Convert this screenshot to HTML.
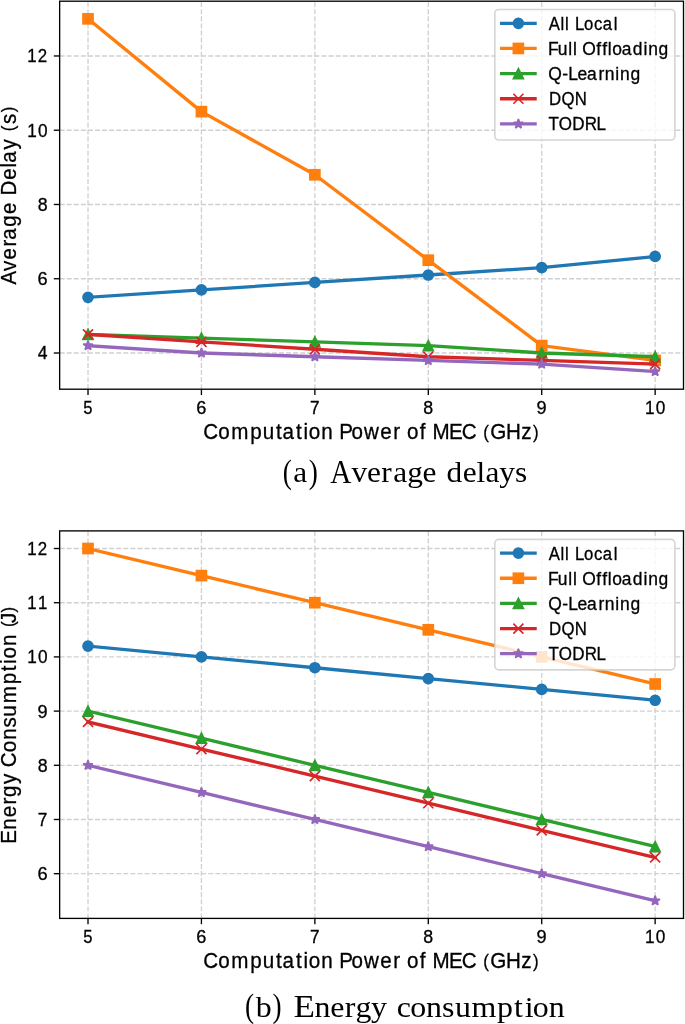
<!DOCTYPE html>
<html><head><meta charset="utf-8"><style>
html,body{margin:0;padding:0;background:#fff;}
svg{display:block;will-change:transform;}
text{font-kerning:none;font-variant-ligatures:none;}
.s{stroke:#000;stroke-width:0.3px;}
</style></head><body>
<svg width="685" height="1024" viewBox="0 0 685 1024">
<rect width="685" height="1024" fill="#fff"/>
<g stroke="#d0d0d0" stroke-width="1.335" stroke-dasharray="4.940,2.136"><line x1="88.01" y1="389.20" x2="88.01" y2="1.20"/><line x1="201.43" y1="389.20" x2="201.43" y2="1.20"/><line x1="314.86" y1="389.20" x2="314.86" y2="1.20"/><line x1="428.29" y1="389.20" x2="428.29" y2="1.20"/><line x1="541.72" y1="389.20" x2="541.72" y2="1.20"/><line x1="655.14" y1="389.20" x2="655.14" y2="1.20"/><line x1="59.65" y1="353.00" x2="683.50" y2="353.00"/><line x1="59.65" y1="278.74" x2="683.50" y2="278.74"/><line x1="59.65" y1="204.48" x2="683.50" y2="204.48"/><line x1="59.65" y1="130.22" x2="683.50" y2="130.22"/><line x1="59.65" y1="55.97" x2="683.50" y2="55.97"/></g>
<polyline points="88.01,297.31 201.43,289.88 314.86,282.45 428.29,275.03 541.72,267.60 655.14,256.46" fill="none" stroke="#1f77b4" stroke-width="3.338" stroke-linejoin="round" stroke-linecap="square"/>
<circle cx="88.01" cy="297.31" r="5.01" fill="#1f77b4" stroke="#1f77b4" stroke-width="1.67"/><circle cx="201.43" cy="289.88" r="5.01" fill="#1f77b4" stroke="#1f77b4" stroke-width="1.67"/><circle cx="314.86" cy="282.45" r="5.01" fill="#1f77b4" stroke="#1f77b4" stroke-width="1.67"/><circle cx="428.29" cy="275.03" r="5.01" fill="#1f77b4" stroke="#1f77b4" stroke-width="1.67"/><circle cx="541.72" cy="267.60" r="5.01" fill="#1f77b4" stroke="#1f77b4" stroke-width="1.67"/><circle cx="655.14" cy="256.46" r="5.01" fill="#1f77b4" stroke="#1f77b4" stroke-width="1.67"/>
<polyline points="88.01,18.84 201.43,111.66 314.86,174.78 428.29,260.18 541.72,345.57 655.14,360.42" fill="none" stroke="#ff7f0e" stroke-width="3.338" stroke-linejoin="round" stroke-linecap="square"/>
<rect x="83.00" y="13.83" width="10.01" height="10.01" fill="#ff7f0e" stroke="#ff7f0e" stroke-width="1.67"/><rect x="196.43" y="106.65" width="10.01" height="10.01" fill="#ff7f0e" stroke="#ff7f0e" stroke-width="1.67"/><rect x="309.85" y="169.77" width="10.01" height="10.01" fill="#ff7f0e" stroke="#ff7f0e" stroke-width="1.67"/><rect x="423.28" y="255.17" width="10.01" height="10.01" fill="#ff7f0e" stroke="#ff7f0e" stroke-width="1.67"/><rect x="536.71" y="340.57" width="10.01" height="10.01" fill="#ff7f0e" stroke="#ff7f0e" stroke-width="1.67"/><rect x="650.14" y="355.42" width="10.01" height="10.01" fill="#ff7f0e" stroke="#ff7f0e" stroke-width="1.67"/>
<polyline points="88.01,334.43 201.43,338.15 314.86,341.86 428.29,345.57 541.72,353.00 655.14,356.71" fill="none" stroke="#2ca02c" stroke-width="3.338" stroke-linejoin="round" stroke-linecap="square"/>
<path d="M88.01,329.43L83.00,339.44L93.01,339.44Z" fill="#2ca02c" stroke="#2ca02c" stroke-width="1.67"/><path d="M201.43,333.14L196.43,343.15L206.44,343.15Z" fill="#2ca02c" stroke="#2ca02c" stroke-width="1.67"/><path d="M314.86,336.85L309.85,346.87L319.87,346.87Z" fill="#2ca02c" stroke="#2ca02c" stroke-width="1.67"/><path d="M428.29,340.57L423.28,350.58L433.30,350.58Z" fill="#2ca02c" stroke="#2ca02c" stroke-width="1.67"/><path d="M541.72,347.99L536.71,358.01L546.72,358.01Z" fill="#2ca02c" stroke="#2ca02c" stroke-width="1.67"/><path d="M655.14,351.70L650.14,361.72L660.15,361.72Z" fill="#2ca02c" stroke="#2ca02c" stroke-width="1.67"/>
<polyline points="88.01,334.43 201.43,341.86 314.86,349.29 428.29,356.71 541.72,360.42 655.14,364.14" fill="none" stroke="#d62728" stroke-width="3.338" stroke-linejoin="round" stroke-linecap="square"/>
<path d="M83.00,329.43L93.01,339.44M83.00,339.44L93.01,329.43" fill="none" stroke="#d62728" stroke-width="1.67"/><path d="M196.43,336.85L206.44,346.87M196.43,346.87L206.44,336.85" fill="none" stroke="#d62728" stroke-width="1.67"/><path d="M309.85,344.28L319.87,354.29M309.85,354.29L319.87,344.28" fill="none" stroke="#d62728" stroke-width="1.67"/><path d="M423.28,351.70L433.30,361.72M423.28,361.72L433.30,351.70" fill="none" stroke="#d62728" stroke-width="1.67"/><path d="M536.71,355.42L546.72,365.43M536.71,365.43L546.72,355.42" fill="none" stroke="#d62728" stroke-width="1.67"/><path d="M650.14,359.13L660.15,369.14M650.14,369.14L660.15,359.13" fill="none" stroke="#d62728" stroke-width="1.67"/>
<polyline points="88.01,345.57 201.43,353.00 314.86,356.71 428.29,360.42 541.72,364.14 655.14,371.56" fill="none" stroke="#9467bd" stroke-width="3.338" stroke-linejoin="round" stroke-linecap="square"/>
<path d="M88.01,340.57L86.88,344.03L83.24,344.03L86.19,346.16L85.06,349.62L88.01,347.49L90.95,349.62L89.83,346.16L92.77,344.03L89.13,344.03Z" fill="#9467bd" stroke="#9467bd" stroke-width="1.67" stroke-linejoin="bevel"/><path d="M201.43,347.99L200.31,351.45L196.67,351.45L199.62,353.59L198.49,357.05L201.43,354.91L204.38,357.05L203.25,353.59L206.20,351.45L202.56,351.45Z" fill="#9467bd" stroke="#9467bd" stroke-width="1.67" stroke-linejoin="bevel"/><path d="M314.86,351.70L313.74,355.16L310.10,355.16L313.04,357.30L311.92,360.76L314.86,358.62L317.80,360.76L316.68,357.30L319.62,355.16L315.99,355.16Z" fill="#9467bd" stroke="#9467bd" stroke-width="1.67" stroke-linejoin="bevel"/><path d="M428.29,355.42L427.16,358.88L423.53,358.88L426.47,361.02L425.35,364.48L428.29,362.34L431.23,364.48L430.11,361.02L433.05,358.88L429.41,358.88Z" fill="#9467bd" stroke="#9467bd" stroke-width="1.67" stroke-linejoin="bevel"/><path d="M541.72,359.13L540.59,362.59L536.95,362.59L539.90,364.73L538.77,368.19L541.72,366.05L544.66,368.19L543.53,364.73L546.48,362.59L542.84,362.59Z" fill="#9467bd" stroke="#9467bd" stroke-width="1.67" stroke-linejoin="bevel"/><path d="M655.14,366.56L654.02,370.02L650.38,370.02L653.32,372.15L652.20,375.61L655.14,373.48L658.09,375.61L656.96,372.15L659.91,370.02L656.27,370.02Z" fill="#9467bd" stroke="#9467bd" stroke-width="1.67" stroke-linejoin="bevel"/>
<rect x="59.65" y="1.20" width="623.85" height="388.00" fill="none" stroke="#000" stroke-width="1.335"/>
<g stroke="#000" stroke-width="1.335" stroke-linecap="butt"><line x1="88.01" y1="389.20" x2="88.01" y2="395.04"/><line x1="201.43" y1="389.20" x2="201.43" y2="395.04"/><line x1="314.86" y1="389.20" x2="314.86" y2="395.04"/><line x1="428.29" y1="389.20" x2="428.29" y2="395.04"/><line x1="541.72" y1="389.20" x2="541.72" y2="395.04"/><line x1="655.14" y1="389.20" x2="655.14" y2="395.04"/><line x1="53.81" y1="353.00" x2="59.65" y2="353.00"/><line x1="53.81" y1="278.74" x2="59.65" y2="278.74"/><line x1="53.81" y1="204.48" x2="59.65" y2="204.48"/><line x1="53.81" y1="130.22" x2="59.65" y2="130.22"/><line x1="53.81" y1="55.97" x2="59.65" y2="55.97"/></g>
<text transform="scale(0.9385,1)" x="88.78" y="413.56" font-family='"Liberation Sans", sans-serif' font-size="17.69" class="s" fill="#000">5</text>
<text transform="scale(1.0293,1)" x="190.78" y="413.56" font-family='"Liberation Sans", sans-serif' font-size="17.69" class="s" fill="#000">6</text>
<text transform="scale(0.9728,1)" x="318.71" y="413.56" font-family='"Liberation Sans", sans-serif' font-size="17.69" class="s" fill="#000">7</text>
<text transform="scale(1.0052,1)" x="421.13" y="413.56" font-family='"Liberation Sans", sans-serif' font-size="17.69" class="s" fill="#000">8</text>
<text transform="scale(1.0272,1)" x="522.41" y="413.56" font-family='"Liberation Sans", sans-serif' font-size="17.69" class="s" fill="#000">9</text>
<text transform="scale(0.9733,1)" x="662.66 673.65" y="413.56" font-family='"Liberation Sans", sans-serif' font-size="17.69" class="s" fill="#000">10</text>
<text transform="scale(0.9946,1)" x="38.00" y="359.48" font-family='"Liberation Sans", sans-serif' font-size="17.69" class="s" fill="#000">4</text>
<text transform="scale(1.0293,1)" x="36.55" y="285.22" font-family='"Liberation Sans", sans-serif' font-size="17.69" class="s" fill="#000">6</text>
<text transform="scale(1.0052,1)" x="37.54" y="210.97" font-family='"Liberation Sans", sans-serif' font-size="17.69" class="s" fill="#000">8</text>
<text transform="scale(0.9733,1)" x="27.94 38.94" y="136.71" font-family='"Liberation Sans", sans-serif' font-size="17.69" class="s" fill="#000">10</text>
<text transform="scale(0.9543,1)" x="28.60 39.58" y="62.45" font-family='"Liberation Sans", sans-serif' font-size="17.69" class="s" fill="#000">12</text>
<text transform="scale(0.9708,1)" x="209.32 224.71 238.18 257.80 270.70 284.23 290.93 304.96 312.52 318.15 331.04 349.48 362.11 375.08 391.68 405.00 419.34 432.49 445.43 462.54 475.62 504.94 521.28 536.91" y="438.93" font-family='"Liberation Sans", sans-serif' font-size="21.23" class="s" fill="#000">ComputationPowerofMECGHz</text><text transform="translate(486.62,437.61) scale(0.7975,0.9019)" x="-4.13" y="0" font-family='"Liberation Sans", sans-serif' font-size="21.23" class="s" fill="#000">(</text><text transform="translate(535.41,437.61) scale(0.7975,0.9019)" x="-2.94" y="0" font-family='"Liberation Sans", sans-serif' font-size="21.23" class="s" fill="#000">)</text>
<text transform="rotate(-90) scale(0.9612,1)" x="-295.87 -282.02 -270.00 -256.56 -249.45 -235.82 -222.62 -203.32 -187.13 -174.33 -169.36 -155.45 -128.96" y="15.50" font-family='"Liberation Sans", sans-serif' font-size="21.23" class="s" fill="#000">AverageDelays</text><text transform="translate(14.18,128.06) rotate(-90) scale(0.7975,0.9019)" x="-4.13" y="0" font-family='"Liberation Sans", sans-serif' font-size="21.23" class="s" fill="#000">(</text><text transform="translate(14.18,109.93) rotate(-90) scale(0.7975,0.9019)" x="-2.94" y="0" font-family='"Liberation Sans", sans-serif' font-size="21.23" class="s" fill="#000">)</text>
<text transform="scale(1.0694,1)" x="274.21 328.78 343.26 356.60 367.64 380.87 395.11 417.61 432.75 445.60 453.91 466.78 481.48" y="482.50" font-family='"Liberation Serif", serif' font-size="29.30" class="r" fill="#000">averagedelays</text><text transform="translate(287.50,482.96) scale(0.9310,1.1367)" x="-5.05" y="0" font-family='"Liberation Serif", serif' font-size="29.30" class="r" fill="#000">(</text><text transform="translate(313.08,482.96) scale(0.9310,1.1367)" x="-4.71" y="0" font-family='"Liberation Serif", serif' font-size="29.30" class="r" fill="#000">)</text><text transform="translate(340.97,482.50) scale(1.0014,1.1179)" x="-10.62" y="0" font-family='"Liberation Serif", serif' font-size="29.30" class="r" fill="#000">A</text>
<rect x="494.80" y="9.50" width="180.10" height="130.50" rx="4" ry="4" fill="#fff" fill-opacity="0.8" stroke="#ccc" stroke-opacity="0.8" stroke-width="1.669"/><line x1="501.70" y1="23.30" x2="535.08" y2="23.30" stroke="#1f77b4" stroke-width="3.338" stroke-linecap="square"/><circle cx="518.39" cy="23.30" r="5.01" fill="#1f77b4" stroke="#1f77b4" stroke-width="1.67"/><text transform="scale(0.9579,1)" x="572.82 585.09 589.93 600.21 609.71 620.11 629.31 640.62" y="29.80" font-family='"Liberation Sans", sans-serif' font-size="17.44" class="s" fill="#000">AllLocal</text><line x1="501.70" y1="48.45" x2="535.08" y2="48.45" stroke="#ff7f0e" stroke-width="3.338" stroke-linecap="square"/><rect x="513.38" y="43.44" width="10.01" height="10.01" fill="#ff7f0e" stroke="#ff7f0e" stroke-width="1.67"/><text transform="scale(1.0007,1)" x="547.68 557.32 567.87 572.51 581.85 595.92 601.79 607.31 611.82 621.41 632.34 642.97 647.69 658.13" y="54.95" font-family='"Liberation Sans", sans-serif' font-size="17.44" class="s" fill="#000">FullOffloading</text><line x1="501.70" y1="73.60" x2="535.08" y2="73.60" stroke="#2ca02c" stroke-width="3.338" stroke-linecap="square"/><path d="M518.39,68.59L513.38,78.61L523.40,78.61Z" fill="#2ca02c" stroke="#2ca02c" stroke-width="1.67"/><text transform="scale(1.0019,1)" x="547.32 561.22 567.27 576.42 585.99 597.41 603.59 614.07 618.78 629.21" y="80.10" font-family='"Liberation Sans", sans-serif' font-size="17.44" class="s" fill="#000">Q-Learning</text><line x1="501.70" y1="98.75" x2="535.08" y2="98.75" stroke="#d62728" stroke-width="3.338" stroke-linecap="square"/><path d="M513.38,93.74L523.40,103.76M513.38,103.76L523.40,93.74" fill="none" stroke="#d62728" stroke-width="1.67"/><text transform="scale(0.9600,1)" x="571.90 584.91 598.73" y="105.25" font-family='"Liberation Sans", sans-serif' font-size="17.44" class="s" fill="#000">DQN</text><line x1="501.70" y1="123.90" x2="535.08" y2="123.90" stroke="#9467bd" stroke-width="3.338" stroke-linecap="square"/><path d="M518.39,118.89L517.27,122.35L513.63,122.35L516.57,124.49L515.45,127.95L518.39,125.81L521.33,127.95L520.21,124.49L523.15,122.35L519.51,122.35Z" fill="#9467bd" stroke="#9467bd" stroke-width="1.67" stroke-linejoin="bevel"/><text transform="scale(0.9738,1)" x="563.25 573.77 587.63 600.43 612.69" y="130.40" font-family='"Liberation Sans", sans-serif' font-size="17.44" class="s" fill="#000">TODRL</text>
<g stroke="#d0d0d0" stroke-width="1.335" stroke-dasharray="4.940,2.136"><line x1="88.01" y1="918.40" x2="88.01" y2="530.90"/><line x1="201.43" y1="918.40" x2="201.43" y2="530.90"/><line x1="314.86" y1="918.40" x2="314.86" y2="530.90"/><line x1="428.29" y1="918.40" x2="428.29" y2="530.90"/><line x1="541.72" y1="918.40" x2="541.72" y2="530.90"/><line x1="655.14" y1="918.40" x2="655.14" y2="530.90"/><line x1="59.65" y1="873.69" x2="683.50" y2="873.69"/><line x1="59.65" y1="819.49" x2="683.50" y2="819.49"/><line x1="59.65" y1="765.30" x2="683.50" y2="765.30"/><line x1="59.65" y1="711.10" x2="683.50" y2="711.10"/><line x1="59.65" y1="656.91" x2="683.50" y2="656.91"/><line x1="59.65" y1="602.71" x2="683.50" y2="602.71"/><line x1="59.65" y1="548.51" x2="683.50" y2="548.51"/></g>
<polyline points="88.01,646.07 201.43,656.91 314.86,667.74 428.29,678.58 541.72,689.42 655.14,700.26" fill="none" stroke="#1f77b4" stroke-width="3.338" stroke-linejoin="round" stroke-linecap="square"/>
<circle cx="88.01" cy="646.07" r="5.01" fill="#1f77b4" stroke="#1f77b4" stroke-width="1.67"/><circle cx="201.43" cy="656.91" r="5.01" fill="#1f77b4" stroke="#1f77b4" stroke-width="1.67"/><circle cx="314.86" cy="667.74" r="5.01" fill="#1f77b4" stroke="#1f77b4" stroke-width="1.67"/><circle cx="428.29" cy="678.58" r="5.01" fill="#1f77b4" stroke="#1f77b4" stroke-width="1.67"/><circle cx="541.72" cy="689.42" r="5.01" fill="#1f77b4" stroke="#1f77b4" stroke-width="1.67"/><circle cx="655.14" cy="700.26" r="5.01" fill="#1f77b4" stroke="#1f77b4" stroke-width="1.67"/>
<polyline points="88.01,548.51 201.43,575.61 314.86,602.71 428.29,629.81 541.72,656.91 655.14,684.00" fill="none" stroke="#ff7f0e" stroke-width="3.338" stroke-linejoin="round" stroke-linecap="square"/>
<rect x="83.00" y="543.51" width="10.01" height="10.01" fill="#ff7f0e" stroke="#ff7f0e" stroke-width="1.67"/><rect x="196.43" y="570.60" width="10.01" height="10.01" fill="#ff7f0e" stroke="#ff7f0e" stroke-width="1.67"/><rect x="309.85" y="597.70" width="10.01" height="10.01" fill="#ff7f0e" stroke="#ff7f0e" stroke-width="1.67"/><rect x="423.28" y="624.80" width="10.01" height="10.01" fill="#ff7f0e" stroke="#ff7f0e" stroke-width="1.67"/><rect x="536.71" y="651.90" width="10.01" height="10.01" fill="#ff7f0e" stroke="#ff7f0e" stroke-width="1.67"/><rect x="650.14" y="679.00" width="10.01" height="10.01" fill="#ff7f0e" stroke="#ff7f0e" stroke-width="1.67"/>
<polyline points="88.01,711.10 201.43,738.20 314.86,765.30 428.29,792.39 541.72,819.49 655.14,846.59" fill="none" stroke="#2ca02c" stroke-width="3.338" stroke-linejoin="round" stroke-linecap="square"/>
<path d="M88.01,706.09L83.00,716.11L93.01,716.11Z" fill="#2ca02c" stroke="#2ca02c" stroke-width="1.67"/><path d="M201.43,733.19L196.43,743.21L206.44,743.21Z" fill="#2ca02c" stroke="#2ca02c" stroke-width="1.67"/><path d="M314.86,760.29L309.85,770.30L319.87,770.30Z" fill="#2ca02c" stroke="#2ca02c" stroke-width="1.67"/><path d="M428.29,787.39L423.28,797.40L433.30,797.40Z" fill="#2ca02c" stroke="#2ca02c" stroke-width="1.67"/><path d="M541.72,814.49L536.71,824.50L546.72,824.50Z" fill="#2ca02c" stroke="#2ca02c" stroke-width="1.67"/><path d="M655.14,841.58L650.14,851.60L660.15,851.60Z" fill="#2ca02c" stroke="#2ca02c" stroke-width="1.67"/>
<polyline points="88.01,721.94 201.43,749.04 314.86,776.14 428.29,803.23 541.72,830.33 655.14,857.43" fill="none" stroke="#d62728" stroke-width="3.338" stroke-linejoin="round" stroke-linecap="square"/>
<path d="M83.00,716.93L93.01,726.95M83.00,726.95L93.01,716.93" fill="none" stroke="#d62728" stroke-width="1.67"/><path d="M196.43,744.03L206.44,754.05M196.43,754.05L206.44,744.03" fill="none" stroke="#d62728" stroke-width="1.67"/><path d="M309.85,771.13L319.87,781.14M309.85,781.14L319.87,771.13" fill="none" stroke="#d62728" stroke-width="1.67"/><path d="M423.28,798.23L433.30,808.24M423.28,808.24L433.30,798.23" fill="none" stroke="#d62728" stroke-width="1.67"/><path d="M536.71,825.32L546.72,835.34M536.71,835.34L546.72,825.32" fill="none" stroke="#d62728" stroke-width="1.67"/><path d="M650.14,852.42L660.15,862.44M650.14,862.44L660.15,852.42" fill="none" stroke="#d62728" stroke-width="1.67"/>
<polyline points="88.01,765.30 201.43,792.39 314.86,819.49 428.29,846.59 541.72,873.69 655.14,900.79" fill="none" stroke="#9467bd" stroke-width="3.338" stroke-linejoin="round" stroke-linecap="square"/>
<path d="M88.01,760.29L86.88,763.75L83.24,763.75L86.19,765.89L85.06,769.35L88.01,767.21L90.95,769.35L89.83,765.89L92.77,763.75L89.13,763.75Z" fill="#9467bd" stroke="#9467bd" stroke-width="1.67" stroke-linejoin="bevel"/><path d="M201.43,787.39L200.31,790.85L196.67,790.85L199.62,792.99L198.49,796.45L201.43,794.31L204.38,796.45L203.25,792.99L206.20,790.85L202.56,790.85Z" fill="#9467bd" stroke="#9467bd" stroke-width="1.67" stroke-linejoin="bevel"/><path d="M314.86,814.49L313.74,817.95L310.10,817.95L313.04,820.08L311.92,823.54L314.86,821.41L317.80,823.54L316.68,820.08L319.62,817.95L315.99,817.95Z" fill="#9467bd" stroke="#9467bd" stroke-width="1.67" stroke-linejoin="bevel"/><path d="M428.29,841.58L427.16,845.04L423.53,845.04L426.47,847.18L425.35,850.64L428.29,848.50L431.23,850.64L430.11,847.18L433.05,845.04L429.41,845.04Z" fill="#9467bd" stroke="#9467bd" stroke-width="1.67" stroke-linejoin="bevel"/><path d="M541.72,868.68L540.59,872.14L536.95,872.14L539.90,874.28L538.77,877.74L541.72,875.60L544.66,877.74L543.53,874.28L546.48,872.14L542.84,872.14Z" fill="#9467bd" stroke="#9467bd" stroke-width="1.67" stroke-linejoin="bevel"/><path d="M655.14,895.78L654.02,899.24L650.38,899.24L653.32,901.38L652.20,904.84L655.14,902.70L658.09,904.84L656.96,901.38L659.91,899.24L656.27,899.24Z" fill="#9467bd" stroke="#9467bd" stroke-width="1.67" stroke-linejoin="bevel"/>
<rect x="59.65" y="530.90" width="623.85" height="387.50" fill="none" stroke="#000" stroke-width="1.335"/>
<g stroke="#000" stroke-width="1.335" stroke-linecap="butt"><line x1="88.01" y1="918.40" x2="88.01" y2="924.24"/><line x1="201.43" y1="918.40" x2="201.43" y2="924.24"/><line x1="314.86" y1="918.40" x2="314.86" y2="924.24"/><line x1="428.29" y1="918.40" x2="428.29" y2="924.24"/><line x1="541.72" y1="918.40" x2="541.72" y2="924.24"/><line x1="655.14" y1="918.40" x2="655.14" y2="924.24"/><line x1="53.81" y1="873.69" x2="59.65" y2="873.69"/><line x1="53.81" y1="819.49" x2="59.65" y2="819.49"/><line x1="53.81" y1="765.30" x2="59.65" y2="765.30"/><line x1="53.81" y1="711.10" x2="59.65" y2="711.10"/><line x1="53.81" y1="656.91" x2="59.65" y2="656.91"/><line x1="53.81" y1="602.71" x2="59.65" y2="602.71"/><line x1="53.81" y1="548.51" x2="59.65" y2="548.51"/></g>
<text transform="scale(0.9385,1)" x="88.78" y="942.76" font-family='"Liberation Sans", sans-serif' font-size="17.69" class="s" fill="#000">5</text>
<text transform="scale(1.0293,1)" x="190.78" y="942.76" font-family='"Liberation Sans", sans-serif' font-size="17.69" class="s" fill="#000">6</text>
<text transform="scale(0.9728,1)" x="318.71" y="942.76" font-family='"Liberation Sans", sans-serif' font-size="17.69" class="s" fill="#000">7</text>
<text transform="scale(1.0052,1)" x="421.13" y="942.76" font-family='"Liberation Sans", sans-serif' font-size="17.69" class="s" fill="#000">8</text>
<text transform="scale(1.0272,1)" x="522.41" y="942.76" font-family='"Liberation Sans", sans-serif' font-size="17.69" class="s" fill="#000">9</text>
<text transform="scale(0.9733,1)" x="662.66 673.65" y="942.76" font-family='"Liberation Sans", sans-serif' font-size="17.69" class="s" fill="#000">10</text>
<text transform="scale(1.0293,1)" x="36.55" y="880.17" font-family='"Liberation Sans", sans-serif' font-size="17.69" class="s" fill="#000">6</text>
<text transform="scale(0.9728,1)" x="38.93" y="825.98" font-family='"Liberation Sans", sans-serif' font-size="17.69" class="s" fill="#000">7</text>
<text transform="scale(1.0052,1)" x="37.54" y="771.78" font-family='"Liberation Sans", sans-serif' font-size="17.69" class="s" fill="#000">8</text>
<text transform="scale(1.0272,1)" x="36.59" y="717.58" font-family='"Liberation Sans", sans-serif' font-size="17.69" class="s" fill="#000">9</text>
<text transform="scale(0.9733,1)" x="27.94 38.94" y="663.39" font-family='"Liberation Sans", sans-serif' font-size="17.69" class="s" fill="#000">10</text>
<text transform="scale(0.9498,1)" x="28.76 39.94" y="609.19" font-family='"Liberation Sans", sans-serif' font-size="17.69" class="s" fill="#000">11</text>
<text transform="scale(0.9543,1)" x="28.60 39.58" y="555.00" font-family='"Liberation Sans", sans-serif' font-size="17.69" class="s" fill="#000">12</text>
<text transform="scale(0.9708,1)" x="209.32 224.71 238.18 257.80 270.70 284.23 290.93 304.96 312.52 318.15 331.04 349.48 362.11 375.08 391.68 405.00 419.34 432.49 445.43 462.54 475.62 504.94 521.28 536.91" y="968.13" font-family='"Liberation Sans", sans-serif' font-size="21.23" class="s" fill="#000">ComputationPowerofMECGHz</text><text transform="translate(486.62,966.81) scale(0.7975,0.9019)" x="-4.13" y="0" font-family='"Liberation Sans", sans-serif' font-size="21.23" class="s" fill="#000">(</text><text transform="translate(535.41,966.81) scale(0.7975,0.9019)" x="-2.94" y="0" font-family='"Liberation Sans", sans-serif' font-size="21.23" class="s" fill="#000">)</text>
<text transform="rotate(-90) scale(0.9684,1)" x="-871.26 -856.89 -843.98 -830.63 -823.08 -809.68 -792.23 -776.81 -763.89 -751.25 -740.09 -726.31 -706.65 -693.27 -685.68 -680.04 -667.12 -643.25" y="15.50" font-family='"Liberation Sans", sans-serif' font-size="21.23" class="s" fill="#000">EnergyConsumptionJ</text><text transform="translate(14.18,623.70) rotate(-90) scale(0.7975,0.9019)" x="-4.13" y="0" font-family='"Liberation Sans", sans-serif' font-size="21.23" class="s" fill="#000">(</text><text transform="translate(14.18,610.10) rotate(-90) scale(0.7975,0.9019)" x="-2.94" y="0" font-family='"Liberation Sans", sans-serif' font-size="21.23" class="s" fill="#000">)</text>
<text transform="scale(1.0902,1)" x="234.62 288.46 303.02 316.14 326.04 340.31 363.92 376.20 390.88 405.54 417.37 432.41 455.87 471.39 481.22 488.72 503.40" y="1016.70" font-family='"Liberation Serif", serif' font-size="29.30" class="r" fill="#000">bnergyconsumption</text><text transform="translate(249.60,1017.16) scale(0.9310,1.1367)" x="-5.05" y="0" font-family='"Liberation Serif", serif' font-size="29.30" class="r" fill="#000">(</text><text transform="translate(276.87,1017.16) scale(0.9310,1.1367)" x="-4.71" y="0" font-family='"Liberation Serif", serif' font-size="29.30" class="r" fill="#000">)</text><text transform="translate(303.80,1016.70) scale(1.1988,1.0704)" x="-8.64" y="0" font-family='"Liberation Serif", serif' font-size="29.30" class="r" fill="#000">E</text>
<rect x="494.80" y="539.30" width="180.10" height="130.50" rx="4" ry="4" fill="#fff" fill-opacity="0.8" stroke="#ccc" stroke-opacity="0.8" stroke-width="1.669"/><line x1="501.70" y1="553.10" x2="535.08" y2="553.10" stroke="#1f77b4" stroke-width="3.338" stroke-linecap="square"/><circle cx="518.39" cy="553.10" r="5.01" fill="#1f77b4" stroke="#1f77b4" stroke-width="1.67"/><text transform="scale(0.9579,1)" x="572.82 585.09 589.93 600.21 609.71 620.11 629.31 640.62" y="559.60" font-family='"Liberation Sans", sans-serif' font-size="17.44" class="s" fill="#000">AllLocal</text><line x1="501.70" y1="578.25" x2="535.08" y2="578.25" stroke="#ff7f0e" stroke-width="3.338" stroke-linecap="square"/><rect x="513.38" y="573.24" width="10.01" height="10.01" fill="#ff7f0e" stroke="#ff7f0e" stroke-width="1.67"/><text transform="scale(1.0007,1)" x="547.68 557.32 567.87 572.51 581.85 595.92 601.79 607.31 611.82 621.41 632.34 642.97 647.69 658.13" y="584.75" font-family='"Liberation Sans", sans-serif' font-size="17.44" class="s" fill="#000">FullOffloading</text><line x1="501.70" y1="603.40" x2="535.08" y2="603.40" stroke="#2ca02c" stroke-width="3.338" stroke-linecap="square"/><path d="M518.39,598.39L513.38,608.41L523.40,608.41Z" fill="#2ca02c" stroke="#2ca02c" stroke-width="1.67"/><text transform="scale(1.0019,1)" x="547.32 561.22 567.27 576.42 585.99 597.41 603.59 614.07 618.78 629.21" y="609.90" font-family='"Liberation Sans", sans-serif' font-size="17.44" class="s" fill="#000">Q-Learning</text><line x1="501.70" y1="628.55" x2="535.08" y2="628.55" stroke="#d62728" stroke-width="3.338" stroke-linecap="square"/><path d="M513.38,623.54L523.40,633.56M513.38,633.56L523.40,623.54" fill="none" stroke="#d62728" stroke-width="1.67"/><text transform="scale(0.9600,1)" x="571.90 584.91 598.73" y="635.05" font-family='"Liberation Sans", sans-serif' font-size="17.44" class="s" fill="#000">DQN</text><line x1="501.70" y1="653.70" x2="535.08" y2="653.70" stroke="#9467bd" stroke-width="3.338" stroke-linecap="square"/><path d="M518.39,648.69L517.27,652.15L513.63,652.15L516.57,654.29L515.45,657.75L518.39,655.61L521.33,657.75L520.21,654.29L523.15,652.15L519.51,652.15Z" fill="#9467bd" stroke="#9467bd" stroke-width="1.67" stroke-linejoin="bevel"/><text transform="scale(0.9738,1)" x="563.25 573.77 587.63 600.43 612.69" y="660.20" font-family='"Liberation Sans", sans-serif' font-size="17.44" class="s" fill="#000">TODRL</text>
</svg>
</body></html>
